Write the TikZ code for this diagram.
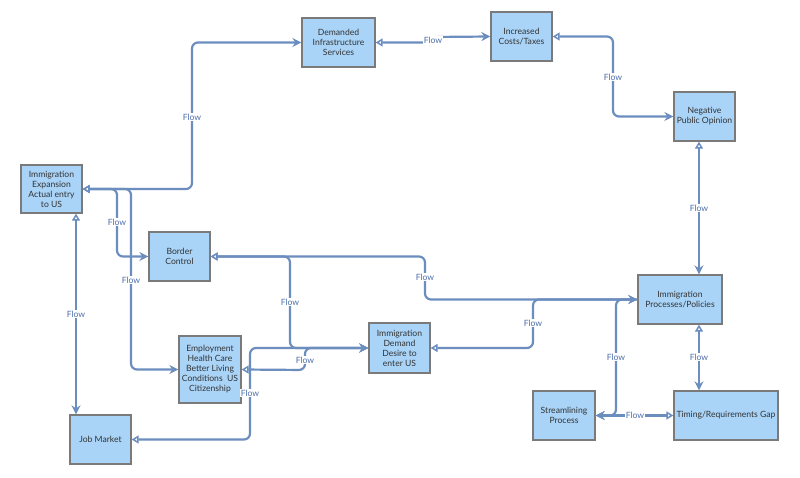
\documentclass[tikz,border=0pt]{standalone}
\usepackage{fontspec}
\setmainfont{Lato}
\usetikzlibrary{arrows.meta}
\definecolor{edgeblue}{HTML}{6C8EBF}
\definecolor{boxfill}{HTML}{A9D4F8}
\definecolor{boxline}{HTML}{7A7A7A}
\definecolor{lbl}{HTML}{4F6FAD}
\tikzset{
  box/.style={draw=boxline, line width=1.3pt, fill=boxfill, align=center,
    inner sep=1pt, font=\fontsize{8.6}{10}\selectfont, text=black!80},
  flow/.style={draw=edgeblue, line width=2.2pt, rounded corners=6pt},
  fullend/.style={-{Stealth[length=9pt, width=9pt, inset=3pt]}},
  both/.style={{Triangle[fill=white, length=7pt, width=8pt, line width=1.5pt]}-{Stealth[length=9pt, width=9pt, inset=3pt]}},
  lab/.style={fill=white, inner sep=1pt, text=lbl, font=\fontsize{8.6}{9}\selectfont}
}
\begin{document}
\begin{tikzpicture}[x=1pt,y=-1pt]
\useasboundingbox (0,0) rectangle (800,478);
\fill[white] (0,0) rectangle (800,478);

% nodes
\node[box, minimum width=73pt, minimum height=49pt] (dis) at (338.5,42.5) {Demanded\\Infrastructure\\Services};
\node[box, minimum width=61pt, minimum height=49pt] (cost) at (521.5,36.5) {Increased\\Costs/Taxes};
\node[box, minimum width=61pt, minimum height=49pt] (neg) at (704.5,116.5) {Negative\\Public Opinion};
\node[box, minimum width=61pt, minimum height=48pt] (exp) at (51.5,189) {Immigration\\Expansion\\Actual entry\\to US};
\node[box, minimum width=61pt, minimum height=49pt] (bord) at (179.5,256.5) {Border\\Control};
\node[box, minimum width=84pt, minimum height=49pt] (proc) at (680,299.5) {Immigration\\Processes/Policies};
\node[box, minimum width=61pt, minimum height=50pt] (dem) at (399.5,348) {Immigration\\Demand\\Desire to\\enter US};
\node[box, minimum width=62pt, minimum height=67pt] (emp) at (210,369.5) {Employment\\Health Care\\Better Living\\Conditions~ US\\Citizenship};
\node[box, minimum width=61pt, minimum height=49pt] (job) at (100.5,439.5) {Job Market};
\node[box, minimum width=62pt, minimum height=49pt] (str) at (564,415.5) {Streamlining\\Process};
\node[box, minimum width=104pt, minimum height=49pt] (tim) at (726,415.5) {Timing/Requirements Gap};

% helper coordinates for vertical lines
\coordinate (xj) at (76,0);
\coordinate (xr) at (699,0);

% connectors
\draw[flow, both] (exp.east) -- (192,189) -- (192,42.5) -- (dis.west);
\node[lab] (l1) at (192,117) {Flow};

\draw[flow, both] (exp.east) -- (117,189) -- (117,256.5) -- (bord.west);
\node[lab] (l2) at (117,222) {Flow};

\draw[flow, both] (exp.east) -- (131,189) -- (131,369.5) -- (emp.west);
\node[lab] (l3) at (131,280) {Flow};

\draw[flow, both] (exp.south -| xj) -- (job.north -| xj);
\node[lab] (l4) at (76,314) {Flow};

\draw[flow, both] (dis.east) -- (433,42.5) -- (433,37) -- (cost.west);
\node[lab] (l5) at (433,40) {Flow};

\draw[flow, both] (cost.east) -- (613,36.5) -- (613,116.5) -- (neg.west);
\node[lab] (l6) at (613,77) {Flow};

\draw[flow, both] (neg.south -| xr) -- (proc.north -| xr);
\node[lab] (l7) at (699,208) {Flow};

\draw[flow, both] (bord.east) -- (425,256.5) -- (425,299.5) -- (proc.west);
\node[lab] (l8) at (425,277) {Flow};

\draw[flow, both] (bord.east) -- (290,256.5) -- (290,348) -- (dem.west);
\node[lab] (l9) at (290,302) {Flow};

\draw[flow, both] (dem.east) -- (533,348) -- (533,299.5) -- (proc.west);
\node[lab] (l10) at (533,323) {Flow};

\draw[flow, both] (emp.east) -- (305,370) -- (305,348) -- (dem.west);
\node[lab] (l11) at (305,360) {Flow};

\draw[flow, both] (job.east) -- (250,439.5) -- (250,348) -- (dem.west);
\node[lab] (l12) at (250,393) {Flow};

\draw[flow, fullend] (proc.west) -- (616,299.5) -- (616,415.5) -- (str.east);
\node[lab] (l13) at (616,357) {Flow};

\draw[flow, both] (tim.west) -- (str.east);
\node[lab] (l14) at (635,415.5) {Flow};

\draw[flow, both] (proc.south -| xr) -- (tim.north -| xr);
\node[lab] (l15) at (699,357) {Flow};
\end{tikzpicture}
\end{document}
